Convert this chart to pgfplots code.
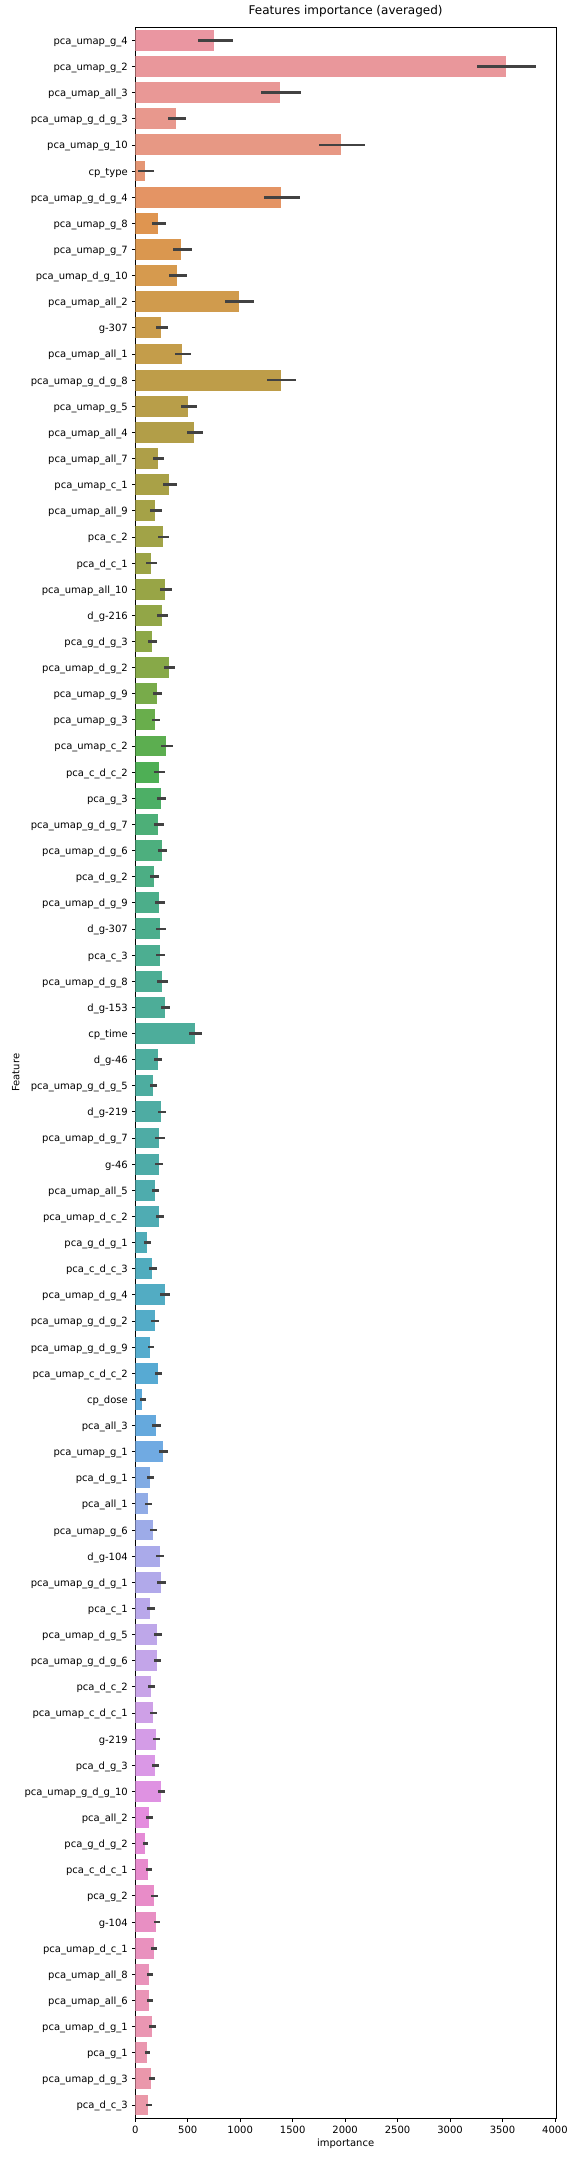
\documentclass[border=0pt]{standalone}
\usepackage{pgfplots}
\pgfplotsset{compat=1.18}
\usepackage{pgfplotstable}
\usepackage{fontspec}
\setmainfont{DejaVu Sans}
\definecolor{ebar}{HTML}{424242}
\pgfplotstableread{
idx imp lo hi
0 747 601 928
1 3530 3260 3819
2 1379 1201 1576
3 385 315 480
4 1957 1754 2186
5 89 29 181
6 1388 1226 1569
7 216 159 289
8 435 359 540
9 397 321 492
10 988 855 1131
11 245 197 311
12 445 378 531
13 1388 1255 1531
14 502 435 588
15 559 492 645
16 216 168 273
17 321 264 397
18 187 140 254
19 264 216 321
20 149 102 207
21 283 235 349
22 254 207 311
23 159 121 207
24 321 273 378
25 207 168 254
26 187 159 235
27 292 245 359
28 226 178 283
29 245 207 292
30 216 178 273
31 254 216 302
32 178 140 226
33 226 187 283
34 235 197 292
35 235 197 283
36 254 207 311
37 283 245 330
38 569 512 635
39 216 178 254
40 168 140 207
41 245 216 292
42 226 187 283
43 226 187 264
44 187 159 226
45 226 197 273
46 111 83 149
47 159 130 207
48 283 235 330
49 187 149 226
50 140 121 178
51 216 187 254
52 64 44 102
53 197 159 245
54 264 226 311
55 140 111 178
56 121 92 159
57 168 140 207
58 235 197 273
59 245 207 292
60 140 111 187
61 207 178 254
62 207 178 245
63 149 121 187
64 168 140 207
65 197 168 235
66 187 159 226
67 245 216 283
68 130 102 168
69 92 73 121
70 121 102 159
71 178 149 216
72 197 178 235
73 178 149 207
74 130 111 168
75 130 111 168
76 159 130 197
77 111 92 140
78 149 130 187
79 121 102 159
}\imptable

\begin{document}
\begin{tikzpicture}
\useasboundingbox (-135.3pt,-42pt) rectangle (440.7pt,2118pt);
\begin{axis}[
  at={(0,0)}, anchor=south west,
  scale only axis, width=420.7pt, height=2090.7pt,
  xmin=0, xmax=4010, ymin=-0.5, ymax=79.5, y dir=reverse,
  xtick={0,500,...,4000},
  ytick={0,...,79},
  yticklabels={pca\_umap\_g\_4,pca\_umap\_g\_2,pca\_umap\_all\_3,pca\_umap\_g\_d\_g\_3,pca\_umap\_g\_10,cp\_type,pca\_umap\_g\_d\_g\_4,pca\_umap\_g\_8,pca\_umap\_g\_7,pca\_umap\_d\_g\_10,pca\_umap\_all\_2,g-307,pca\_umap\_all\_1,pca\_umap\_g\_d\_g\_8,pca\_umap\_g\_5,pca\_umap\_all\_4,pca\_umap\_all\_7,pca\_umap\_c\_1,pca\_umap\_all\_9,pca\_c\_2,pca\_d\_c\_1,pca\_umap\_all\_10,d\_g-216,pca\_g\_d\_g\_3,pca\_umap\_d\_g\_2,pca\_umap\_g\_9,pca\_umap\_g\_3,pca\_umap\_c\_2,pca\_c\_d\_c\_2,pca\_g\_3,pca\_umap\_g\_d\_g\_7,pca\_umap\_d\_g\_6,pca\_d\_g\_2,pca\_umap\_d\_g\_9,d\_g-307,pca\_c\_3,pca\_umap\_d\_g\_8,d\_g-153,cp\_time,d\_g-46,pca\_umap\_g\_d\_g\_5,d\_g-219,pca\_umap\_d\_g\_7,g-46,pca\_umap\_all\_5,pca\_umap\_d\_c\_2,pca\_g\_d\_g\_1,pca\_c\_d\_c\_3,pca\_umap\_d\_g\_4,pca\_umap\_g\_d\_g\_2,pca\_umap\_g\_d\_g\_9,pca\_umap\_c\_d\_c\_2,cp\_dose,pca\_all\_3,pca\_umap\_g\_1,pca\_d\_g\_1,pca\_all\_1,pca\_umap\_g\_6,d\_g-104,pca\_umap\_g\_d\_g\_1,pca\_c\_1,pca\_umap\_d\_g\_5,pca\_umap\_g\_d\_g\_6,pca\_d\_c\_2,pca\_umap\_c\_d\_c\_1,g-219,pca\_d\_g\_3,pca\_umap\_g\_d\_g\_10,pca\_all\_2,pca\_g\_d\_g\_2,pca\_c\_d\_c\_1,pca\_g\_2,g-104,pca\_umap\_d\_c\_1,pca\_umap\_all\_8,pca\_umap\_all\_6,pca\_umap\_d\_g\_1,pca\_g\_1,pca\_umap\_d\_g\_3,pca\_d\_c\_3},
  tick pos=left, tick align=outside, major tick length=3.5pt,
  every tick/.style={line width=0.8pt, black},
  axis line style={line width=0.8pt, black},
  /pgf/number format/assume math mode=true,
  /pgf/number format/1000 sep={},
  scaled x ticks=false,
  ticklabel style={font=\fontsize{10}{12}\selectfont},
  xticklabel style={anchor=base, inner sep=0pt, yshift=-12pt},
  yticklabel style={anchor=base east, inner sep=0pt, xshift=-3.8pt, yshift=-4pt},
  title={Features importance (averaged)},
  title style={font=\fontsize{12}{14}\selectfont, at={(axis description cs:0.5,1)}, anchor=base, inner sep=0pt, yshift=6.6pt},
  xlabel={importance},
  xlabel style={font=\fontsize{10}{12}\selectfont, at={(axis description cs:0.5,0)}, anchor=base, inner sep=0pt, yshift=-28pt},
  ylabel={Feature},
  ylabel style={font=\fontsize{10}{12}\selectfont, at={(axis description cs:-0.2757,0.5)}, anchor=base, inner sep=0pt},
  colormap={imp}{
    rgb255(0cm)=(234,150,161) rgb255(2cm)=(233,152,150) rgb255(4cm)=(231,152,132)
    rgb255(6cm)=(228,148,100) rgb255(7cm)=(223,149,80) rgb255(9cm)=(214,154,78)
    rgb255(12cm)=(196,157,74) rgb255(15cm)=(178,158,72) rgb255(18cm)=(165,162,71)
    rgb255(21cm)=(152,165,70) rgb255(24cm)=(135,169,72) rgb255(26cm)=(105,174,76)
    rgb255(28cm)=(78,175,85) rgb255(30cm)=(77,175,120) rgb255(33cm)=(76,174,138)
    rgb255(38cm)=(77,173,155) rgb255(43cm)=(78,172,168) rgb255(47cm)=(80,172,190)
    rgb255(50cm)=(85,172,205) rgb255(52cm)=(90,168,217) rgb255(54cm)=(112,170,226)
    rgb255(56cm)=(145,172,230) rgb255(58cm)=(170,170,234) rgb255(60cm)=(185,168,234)
    rgb255(63cm)=(200,164,232) rgb255(66cm)=(218,152,230) rgb255(68cm)=(228,140,222)
    rgb255(70cm)=(231,138,205) rgb255(73cm)=(233,145,190) rgb255(76cm)=(234,150,178)
    rgb255(79cm)=(234,152,168)
  },
]
\pgfplotsinvokeforeach{0,...,79}{
  \addplot[xbar, bar width=0.8, bar shift=0pt,
    color of colormap={#1*12.658 of imp}, fill=., draw=none,
    restrict expr to domain={\coordindex}{#1:#1},
    error bars/.cd, x dir=both, x explicit, error mark=none,
    error bar style={draw=ebar, line width=2.7pt, line cap=butt}]
  table[x=imp, y=idx, x error plus expr=\thisrow{hi}-\thisrow{imp}, x error minus expr=\thisrow{imp}-\thisrow{lo}] {\imptable};
}
\end{axis}
\end{tikzpicture}
\end{document}
